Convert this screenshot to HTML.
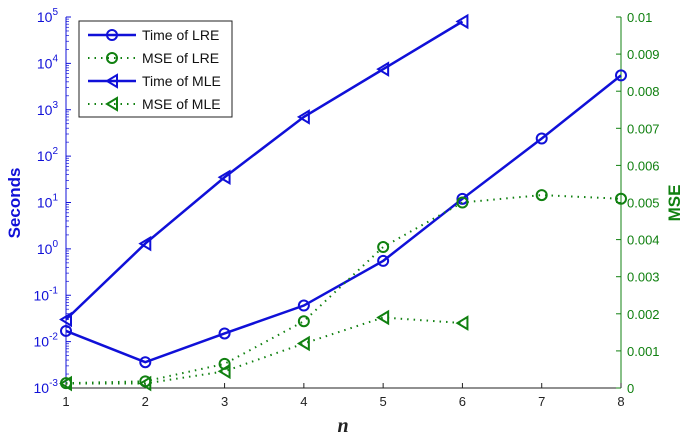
<!DOCTYPE html>
<html><head><meta charset="utf-8"><style>
body{margin:0;background:#fff;}
svg{display:block;font-family:"Liberation Sans",sans-serif;}
</style></head><body>
<svg id="chart" width="685" height="437"></svg>
<script>
const nVals=[1,2,3,4,5,6,7,8];
const timeLRE=[0.017,0.0036,0.015,0.06,0.55,12,240,5500];
const timeMLE=[0.03,1.3,35,700,7500,80000];
const mseLRE=[0.00013,0.00018,0.00065,0.0018,0.0038,0.0050,0.0052,0.0051];
const mseMLE=[0.00012,0.00012,0.00045,0.0012,0.0019,0.00175];
const leftExps=[-3,-2,-1,0,1,2,3,4,5];
const rightTicks=[0,0.001,0.002,0.003,0.004,0.005,0.006,0.007,0.008,0.009,0.01];
const rightLabels=["0","0.001","0.002","0.003","0.004","0.005","0.006","0.007","0.008","0.009","0.01"];

const L=66,R=621,T=17,B=388;
const svg=document.getElementById('chart');
const NS='http://www.w3.org/2000/svg';
const blue='#1010d8',green='#108010';
const xS=n=>L+(n-1)/7*(R-L);
const yL=v=>B-(Math.log10(v)+3)/8*(B-T);
const yR=v=>B-v/0.01*(B-T);
function el(tag,attrs,parent){const e=document.createElementNS(NS,tag);for(const k in attrs)e.setAttribute(k,attrs[k]);(parent||svg).appendChild(e);return e;}

// axes
const ax=el('g',{});


el('line',{x1:L,y1:B,x2:R,y2:B,stroke:'#222','stroke-width':1},ax);
el('line',{x1:L,y1:T,x2:L,y2:B,stroke:blue,'stroke-width':1},ax);
el('line',{x1:R,y1:T,x2:R,y2:B,stroke:green,'stroke-width':1},ax);
nVals.forEach(n=>{
  el('line',{x1:xS(n),y1:B,x2:xS(n),y2:B-5,stroke:'#222'},ax);
  const t=el('text',{x:xS(n),y:B+18,'text-anchor':'middle','font-size':13,fill:'#222'},ax);t.textContent=n;
  
  
});
leftExps.forEach(e=>{
  const y=yL(Math.pow(10,e));
  el('line',{x1:L,y1:y,x2:L+5,y2:y,stroke:blue},ax);
  if(e<5)for(let m=2;m<10;m++){const yy=yL(m*Math.pow(10,e));el('line',{x1:L,y1:yy,x2:L+3,y2:yy,stroke:blue,'stroke-width':0.7},ax);}
  const t=el('text',{x:L-8,y:y+5,'text-anchor':'end','font-size':14,fill:blue},ax);
  
  
  t.innerHTML='10<tspan dy="-7" font-size="10">'+e+'</tspan>';
});
rightTicks.forEach((v,i)=>{
  const y=yR(v);
  el('line',{x1:R,y1:y,x2:R-5,y2:y,stroke:green},ax);
  const t=el('text',{x:R+6,y:y+5,'font-size':13,fill:green},ax);t.textContent=rightLabels[i];
  
  
});
let t=el('text',{x:343,y:432,'text-anchor':'middle','font-size':20,'font-style':'italic','font-weight':'bold','font-family':'Liberation Serif,serif',fill:'#222'});t.textContent='n';

t=el('text',{x:0,y:0,'text-anchor':'middle','font-size':17,'font-weight':'bold',fill:blue,transform:'translate(20,203) rotate(-90)'});t.textContent='Seconds';

t=el('text',{x:0,y:0,'text-anchor':'middle','font-size':17,'font-weight':'bold',fill:green,transform:'translate(680,203) rotate(-90)'});t.textContent='MSE';


function circle(g,x,y,c){el('circle',{cx:x,cy:y,r:5,fill:'none',stroke:c,'stroke-width':2},g);}
function tri(g,x,y,c){el('path',{d:`M${x-5},${y} L${x+5},${y-6} L${x+5},${y+6} Z`,fill:'none',stroke:c,'stroke-width':2},g);}
function series(name,vals,yf,color,dash,mk){
  const g=el('g',{});
  
  
  const pts=vals.map((v,i)=>xS(nVals[i])+','+yf(v)).join(' ');
  el('polyline',{points:pts,fill:'none',stroke:color,'stroke-width':dash?2:2.5,'stroke-dasharray':dash?'1.5 5':'none'},g);
  vals.forEach((v,i)=>mk(g,xS(nVals[i]),yf(v),color));
}
series('series-time-lre',timeLRE,yL,blue,false,circle);
series('series-mse-lre',mseLRE,yR,green,true,circle);
series('series-time-mle',timeMLE,yL,blue,false,tri);
series('series-mse-mle',mseMLE,yR,green,true,tri);

// legend
const lg=el('g',{});


el('rect',{x:79,y:21,width:153,height:96,fill:'#fff',stroke:'#222'},lg);
const items=[['Time of LRE',blue,false,circle],['MSE of LRE',green,true,circle],['Time of MLE',blue,false,tri],['MSE of MLE',green,true,tri]];
items.forEach((it,i)=>{
  const y=35+i*23;
  const g=el('g',{},lg);
  
  
  el('line',{x1:88,y1:y,x2:136,y2:y,stroke:it[1],'stroke-width':it[2]?2:2.5,'stroke-dasharray':it[2]?'1.5 5':'none'},g);
  it[3](g,112,y,it[1]);
  const tx=el('text',{x:142,y:y+5,'font-size':14,fill:'#111'},g);tx.textContent=it[0];
});
</script>
</body></html>
